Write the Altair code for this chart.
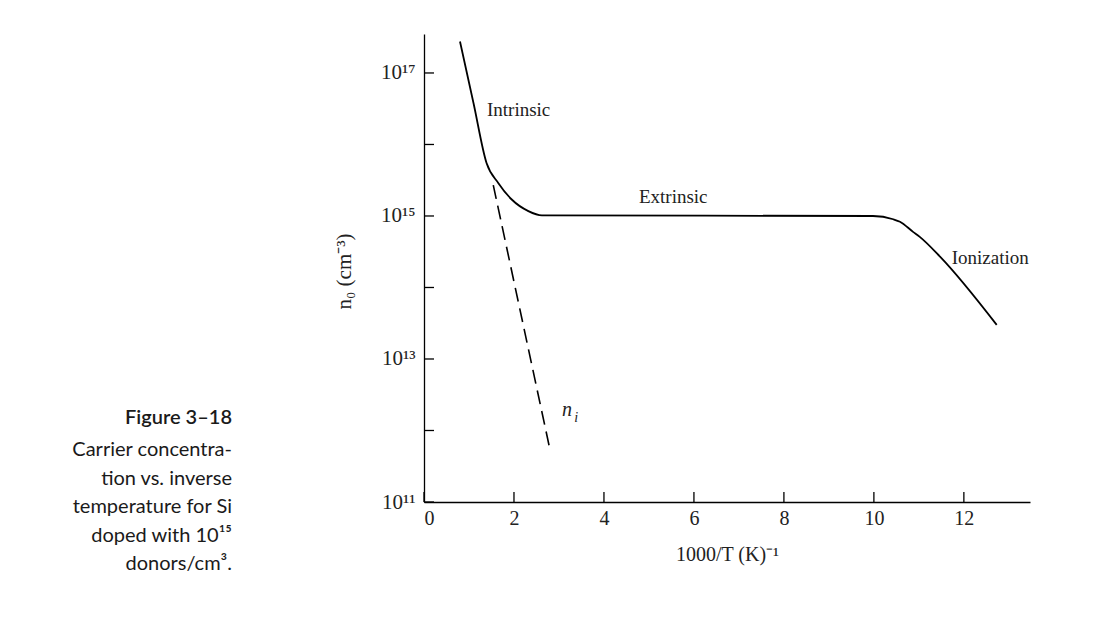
import altair as alt
import pandas as pd

# ---- data ----
curve_x = [0.80, 1.10, 1.39, 1.65, 1.95, 2.32, 2.62, 9.98, 10.43, 10.58, 10.87, 11.02, 11.47, 12.73]
curve_n = [2.75e17, 3.8e16, 5.5e15, 2.9e15, 1.7e15, 1.17e15, 1.02e15, 1.0e15,
           9.0e14, 8.3e14, 6.0e14, 5.1e14, 2.7e14, 3.0e13]

ni_x = [1.54, 2.80]
ni_n = [2.7e15, 5.4e11]

x_tick_values = [0, 2, 4, 6, 8, 10, 12]
y_tick_values = [1e11, 1e12, 1e13, 1e14, 1e15, 1e16, 1e17]
y_label_values = [1e11, 1e13, 1e15, 1e17]

caption_title = "Figure 3\u201318"
caption_lines = ["Carrier concentra-", "tion vs. inverse", "temperature for Si",
                 "doped with 10\u00b9\u2075", "donors/cm\u00b3."]

SERIF = "Liberation Serif"
SANS = "Lato"

curve_df = pd.DataFrame({"x": curve_x, "n": curve_n})
ni_df = pd.DataFrame({"x": ni_x, "n": ni_n})
xt_df = pd.DataFrame({"v": x_tick_values})
yt_df = pd.DataFrame({"v": y_tick_values})
one_row = pd.DataFrame({"k": [0]})

x_scale = alt.Scale(domain=[0, 13.47], nice=False, zero=False)
y_scale = alt.Scale(type="log", domain=[1e11, 10 ** 17.545], nice=False)

label_expr = ("round(log(datum.value)/LN10) == 17 ? '10\u00b9\u2077' : "
              "round(log(datum.value)/LN10) == 15 ? '10\u00b9\u2075' : "
              "round(log(datum.value)/LN10) == 13 ? '10\u00b9\u00b3' : '10\u00b9\u00b9'")

x_axis = alt.Axis(values=x_tick_values, ticks=False, grid=False, domainColor="black",
                  domainWidth=1.3, labelFont=SERIF, labelFontSize=20, labelColor="#222",
                  labelPadding=6, title="1000/T  (K)\u207b\u00b9", titleFont=SERIF,
                  titleFontSize=20, titleFontWeight="normal", titleColor="#222",
                  titlePadding=16)
y_axis = alt.Axis(values=y_label_values, ticks=False, grid=False, domainColor="black",
                  domainWidth=1.3, labelExpr=label_expr, labelFont=SERIF, labelFontSize=21,
                  labelColor="#222", labelPadding=9, title="n\u2080  (cm\u207b\u00b3)",
                  titleFont=SERIF, titleFontSize=21, titleFontWeight="normal",
                  titleColor="#222", titleX=-80, titleY=237, titleAlign="center",
                  titleBaseline="middle")

main = alt.Chart(curve_df).mark_line(color="black", strokeWidth=1.8, interpolate="monotone").encode(
    x=alt.X("x:Q", scale=x_scale, axis=x_axis),
    y=alt.Y("n:Q", scale=y_scale, axis=y_axis),
)

ni_line = alt.Chart(ni_df).mark_line(color="black", strokeWidth=1.6, strokeDash=[14, 7]).encode(
    x=alt.X("x:Q", scale=x_scale),
    y=alt.Y("n:Q", scale=y_scale),
)

y_ticks = alt.Chart(yt_df).mark_rule(color="black", strokeWidth=1.3).encode(
    y=alt.Y("v:Q", scale=y_scale),
    x=alt.value(0), x2=alt.value(10),
)
x_ticks = alt.Chart(xt_df).mark_rule(color="black", strokeWidth=1.3).encode(
    x=alt.X("v:Q", scale=x_scale),
    y=alt.value(468), y2=alt.value(458),
)


def label(text, x, n, align="left", italic=False, size=18):
    return alt.Chart(one_row).mark_text(
        text=text, font=SERIF, fontSize=size, align=align, baseline="middle",
        color="#222", fontStyle="italic" if italic else "normal",
    ).encode(x=alt.datum(x), y=alt.datum(n))


lbl_intr = label("Intrinsic", 1.40, 10 ** 16.48, size=19)
lbl_extr = label("Extrinsic", 5.54, 10 ** 15.27, align="center", size=19)
lbl_ion = label("Ionization", 11.73, 10 ** 14.41, size=19)
lbl_n = label("n", 3.07, 10 ** 12.29, italic=True, size=20)
lbl_i = label("i", 3.34, 10 ** 12.18, italic=True, size=14)

cap_title = alt.Chart(one_row).mark_text(
    text=caption_title, font=SANS, fontSize=20, fontWeight=600, align="right",
    baseline="middle", color="#1a1a1a",
).encode(x=alt.value(-192), y=alt.value(384))

caps = []
for i, line in enumerate(caption_lines):
    caps.append(alt.Chart(one_row).mark_text(
        text=line, font=SANS, fontSize=20, fontWeight="normal", align="right", baseline="middle",
        color="#1a1a1a",
    ).encode(x=alt.value(-192), y=alt.value(416 + i * 28.5)))

chart = alt.layer(main, ni_line, y_ticks, x_ticks, lbl_intr, lbl_extr, lbl_ion, lbl_n, lbl_i,
                  cap_title, *caps).properties(
    width=606, height=468,
    autosize=alt.AutoSizeParams(type="none"),
    padding={"left": 424, "top": 34, "right": 81, "bottom": 125},
).configure(background="white").configure_view(strokeWidth=0, stroke="transparent")

chart.save("out.html", embed_options={"renderer": "svg", "actions": False})
